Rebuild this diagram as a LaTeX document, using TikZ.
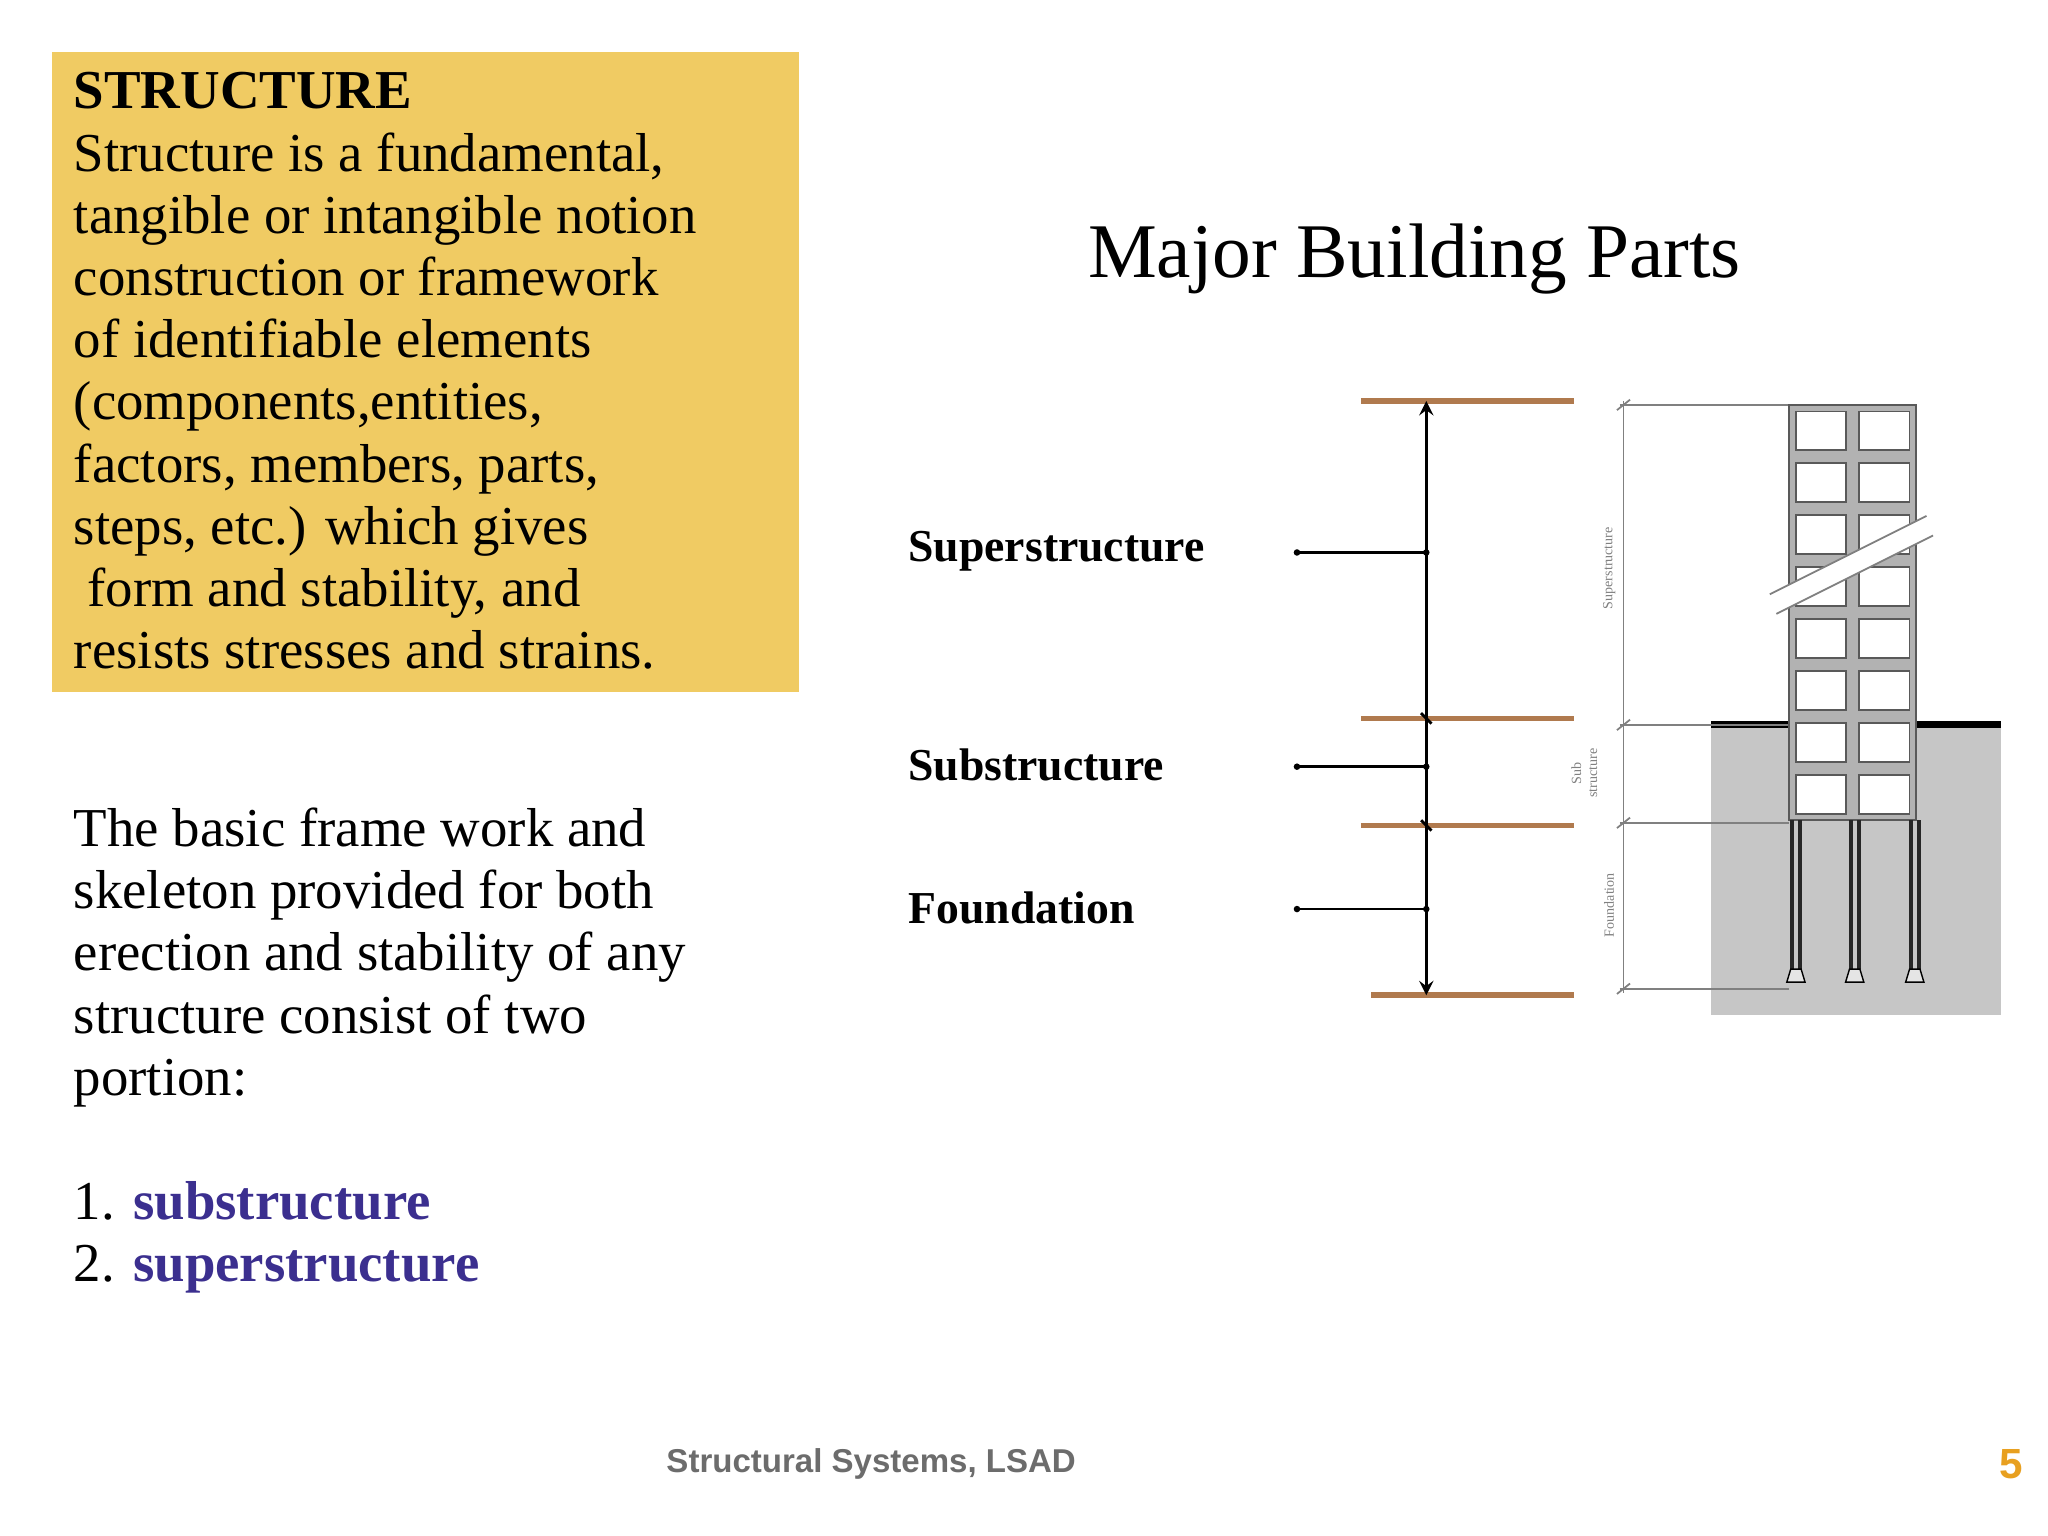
\documentclass[tikz,border=0pt]{standalone}
\usepackage{fontspec}
\setmainfont{Liberation Serif}
\newfontfamily\footfont{Liberation Sans}
\definecolor{boxy}{HTML}{F0CB63}
\definecolor{listblue}{HTML}{3B2F8F}
\definecolor{brn}{HTML}{B07A4E}
\definecolor{pgnum}{HTML}{E8A020}
\tikzset{body/.style={anchor=north west,align=left,font=\fontsize{15.6}{17.7}\selectfont,inner sep=0pt},
 lbl/.style={anchor=west,font=\fontsize{13}{15}\selectfont,inner sep=0pt},
 tiny/.style={font=\fontsize{4}{4.5}\selectfont,rotate=90,text=gray,inner sep=0pt,align=center},
 lvl/.style={brn,line width=1.6pt},
 thin/.style={gray,line width=0.5pt}}
\begin{document}
\begin{tikzpicture}[x=0.01306cm,y=-0.01306cm]
\useasboundingbox (0,0) rectangle (1568,1176);
\fill[boxy] (40,40) rectangle (612,530);
\node[body] (t1) at (56,55) {\textbf{STRUCTURE}\\Structure is a fundamental,\\tangible or intangible notion\\construction or framework\\of identifiable elements\\(components,entities,\\factors, members, parts,\\steps, etc.) which gives\\\ form and stability, and\\resists stresses and strains.};
\node[body] (t2) at (56,618) {The basic frame work and\\skeleton provided for both\\erection and stability of any\\structure consist of two\\portion:\\[17.7pt]1. \textcolor{listblue}{\textbf{substructure}}\\2. \textcolor{listblue}{\textbf{superstructure}}};
\node[font=\fontsize{22}{25}\selectfont] (title) at (1083,198) {Major Building Parts};
% levels
\draw[lvl] (1042,307) -- (1205,307);
\draw[lvl] (1042,550) -- (1205,550);
\draw[lvl] (1042,632) -- (1205,632);
\draw[lvl] (1050,762) -- (1205,762);
\coordinate (vt) at (1092,307); \coordinate (vb) at (1092,762);
\draw[thick,<->,>=stealth] (vt) -- (vb);
\foreach \y in {550,632}{\draw[thick] (1088,\y-4)--(1096,\y+4);}
\foreach \n/\t/\y in {sup/Superstructure/422,sub/Substructure/586,fnd/Foundation/695}{
 \node[lbl] (\n) at (695,\y) {\textbf{\t}};
 \coordinate (\n a) at (993,\y+1); \coordinate (\n b) at (1092,\y+1);
 \draw[thick] (\n a) -- (\n b);
 \fill (\n a) circle (2.5); \fill (\n b) circle (2.5);}
% right drawing
\fill[gray!45] (1310,555) rectangle (1532,777);
\draw[line width=2pt] (1310,555) -- (1532,555);
\draw[thin] (1243,307) -- (1243,760);
\foreach \y in {310,555,630,757}{\draw[thin] (1240,\y) -- (1370,\y); \draw[thin] (1238,\y+4)--(1248,\y-4);}
\node[tiny] at (1232,435) {Superstructure};
\node[tiny] at (1213,592) {Sub\\structure};
\node[tiny] at (1232,693) {Foundation};
\foreach \c in {0,1}{\foreach \r in {0,...,7}{
 \pgfmathsetmacro\xa{1370+\c*48.5}\pgfmathsetmacro\ya{310+\r*39.75}
 \fill[gray!60] (\xa,\ya) rectangle ++(48.5,39.75);
 \fill[white] (\xa+5,\ya+5) rectangle ++(38.5,29.75);
 \draw[gray!70!black,line width=0.5pt] (\xa+5,\ya+5) rectangle ++(38.5,29.75);}}
\draw[gray!70!black,line width=0.6pt] (1370,310) rectangle (1467,628);
\foreach \x in {1375,1420,1466}{
 \draw[gray!30!black,line width=1.2pt] (\x-3,628) -- (\x-3,742);
 \draw[gray!30!black,line width=1.2pt] (\x+3,628) -- (\x+3,742);
 \fill[gray!20,draw=black] (\x-4,742) -- (\x+4,742) -- (\x+7,752) -- (\x-7,752) -- cycle;}
\fill[white] (1355,455) -- (1475,395) -- (1480,410) -- (1360,470) -- cycle;
\draw[thin] (1355,455) -- (1475,395); \draw[thin] (1360,470) -- (1480,410);
\node[font=\footfont\bfseries\fontsize{9.4}{11}\selectfont,text=gray!85!black] (foot) at (667,1121) {Structural Systems, LSAD};
\node[font=\footfont\bfseries\fontsize{12}{14}\selectfont,text=pgnum] (pg) at (1540,1121) {5};
\end{tikzpicture}
\end{document}
